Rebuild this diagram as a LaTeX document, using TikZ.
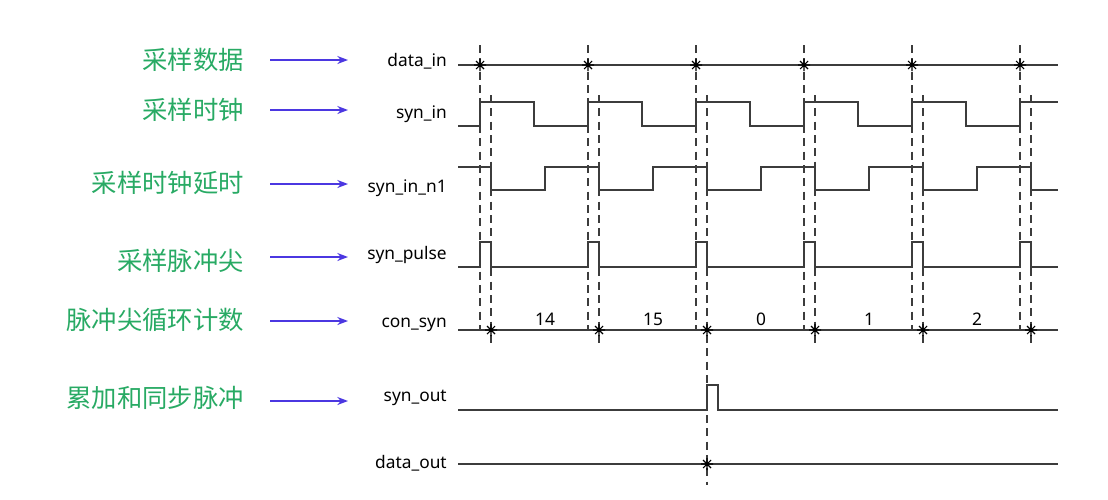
\documentclass[tikz,border=0pt]{standalone}
\usepackage{fontspec}
\setmainfont{Noto Sans}
\newfontfamily\cjk{Noto Sans CJK SC}
\usetikzlibrary{arrows.meta}
\definecolor{lblgreen}{RGB}{40,170,100}
\definecolor{arrblue}{RGB}{75,55,225}
\definecolor{wave}{RGB}{60,60,60}
\tikzset{
  cnlabel/.style={anchor=east,inner sep=0.75pt,text=lblgreen,font=\cjk\fontsize{19}{19}\selectfont},
  signame/.style={anchor=east,inner sep=0.75pt,font=\fontsize{13}{13}\selectfont},
  pointer/.style={draw=arrblue,line width=1.1pt,-{Stealth[length=8pt]}},
  wv/.style={draw=wave,line width=1pt},
  guide/.style={draw=wave,line width=0.9pt,dash pattern=on 6pt off 4pt},
  starmark/.pic={\draw[line width=0.8pt] (-6,0)--(6,0) (-4,-4)--(4,4) (-4,4)--(4,-4) (0,-6)--(0,6);}
}
\begin{document}
\begin{tikzpicture}[x=0.75pt,y=0.75pt,yscale=-1,xscale=1]
\useasboundingbox (0,0) rectangle (1108,500);

% Labels
\node[cnlabel] (l1) at (245,60) {采样数据};
\node[cnlabel] (l2) at (245,110) {采样时钟};
\node[cnlabel] (l3) at (245,183) {采样时钟延时};
\node[cnlabel] (l4) at (245,261) {采样脉冲尖};
\node[cnlabel] (l5) at (245,320) {脉冲尖循环计数};
\node[cnlabel] (l6) at (245,398) {累加和同步脉冲};

% Signal names
\node[signame] (s1) at (448,61) {data\_in};
\node[signame] (s2) at (448,114) {syn\_in};
\node[signame] (s3) at (448,188) {syn\_in\_n1};
\node[signame] (s4) at (448,255) {syn\_pulse};
\node[signame] (s5) at (448,325) {con\_syn};
\node[signame] (s6) at (448,398) {syn\_out};
\node[signame] (s7) at (448,463) {data\_out};

% Arrows
\foreach \i/\y in {1/60,2/110,3/184,4/257,5/321,6/401} {
  \coordinate (a\i) at (270,\y);
  \coordinate (b\i) at (348,\y);
  \draw[pointer] (a\i) -- (b\i);
}

% Guides
\foreach \e in {480,588,696,804,912,1020}
  \draw[guide] (\e,45) -- (\e,330);
\foreach \e in {491,599,815,923,1031}
  \draw[guide] (\e,95) -- (\e,348);
\draw[guide] (707,95) -- (707,485);

% data_in
\draw[wv] (458,65) -- (1058,65);
\foreach \e in {480,588,696,804,912,1020} \pic at (\e,65) {starmark};

% syn_in
\draw[wv] (458,126) -- (480,126)
  \foreach \e in {480,588,696,804,912} {-- (\e,126) -- (\e,102) -- (\e+54,102) -- (\e+54,126)}
  -- (1020,126) -- (1020,102) -- (1058,102);

% syn_in_n1
\draw[wv] (458,167) -- (491,167)
  \foreach \e in {491,599,707,815,923} {-- (\e,167) -- (\e,190) -- (\e+54,190) -- (\e+54,167)}
  -- (1031,167) -- (1031,190) -- (1058,190);

% syn_pulse
\draw[wv] (458,267)
  \foreach \e in {480,588,696,804,912,1020} {-- (\e,267) -- (\e,242) -- (\e+11,242) -- (\e+11,267)}
  -- (1058,267);

% con_syn
\draw[wv] (458,330) -- (1058,330);
\foreach \e in {491,599,707,815,923,1031} \pic at (\e,330) {starmark};
\foreach \e/\n in {545/14,653/15,761/0,869/1,977/2}
  \node[signame,anchor=base] at (\e,325) {\n};

% syn_out
\draw[wv] (458,410) -- (707,410) -- (707,385) -- (718,385) -- (718,410) -- (1058,410);

% data_out
\draw[wv] (458,464) -- (1058,464);
\pic at (707,464) {starmark};

\end{tikzpicture}
\end{document}
